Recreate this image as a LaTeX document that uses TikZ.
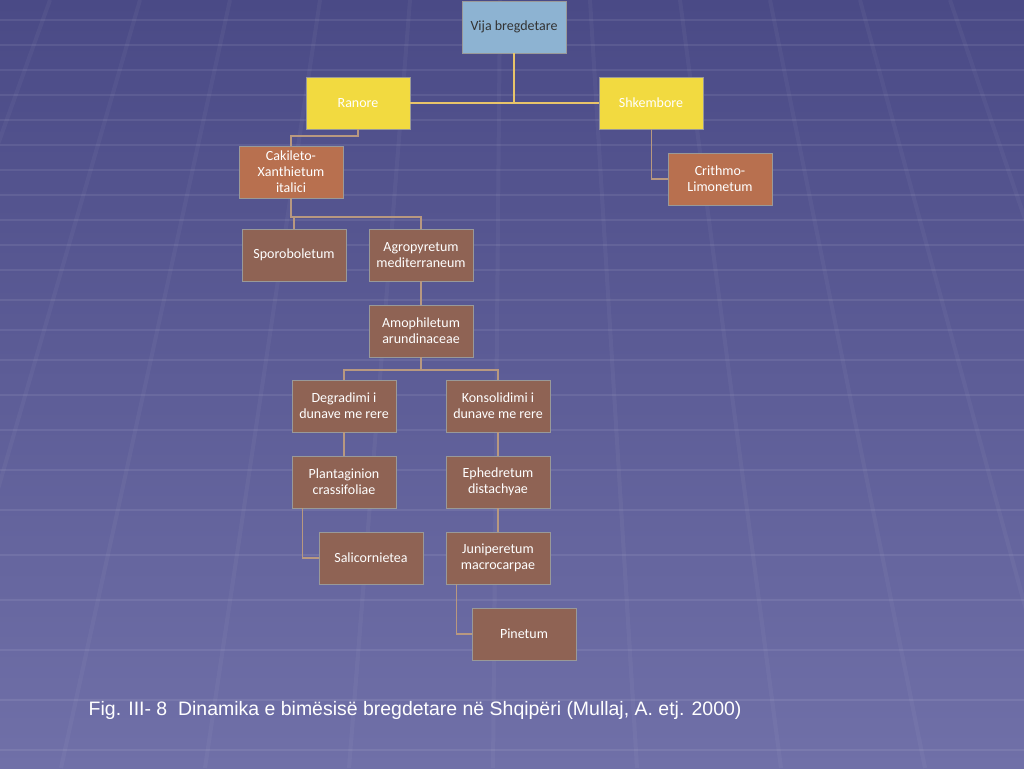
\documentclass[tikz,border=0pt]{standalone}
\usepackage{fontspec}
\setmainfont{Carlito}
\newfontfamily\capfont{Liberation Sans}
\definecolor{bgtop}{HTML}{4A4A86}
\definecolor{bgbot}{HTML}{7070A8}
\definecolor{boxb}{HTML}{8F6354}
\definecolor{boxo}{HTML}{B8704F}
\definecolor{boxy}{HTML}{F2DA40}
\definecolor{boxbl}{HTML}{8DB3D2}
\definecolor{lnb}{HTML}{B89880}
\definecolor{lny}{HTML}{E8C46A}
\begin{document}
\begin{tikzpicture}[x=0.75pt,y=-0.75pt,
  bx/.style={draw=black!40,line width=0.6pt,minimum width=78pt,minimum height=39pt,inner sep=1pt,
    align=center,font=\fontsize{10.5}{12}\selectfont,text=white,fill=boxb},
  ln/.style={draw=lnb,line width=1pt},
  lnt/.style={draw=lny,line width=1.2pt}]
\useasboundingbox (0,0) rectangle (1024,768);
\begin{scope}
\clip (0,0) rectangle (1024,768);
\shade[top color=bgtop,bottom color=bgbot] (0,0) rectangle (1024,768);
\foreach \y in {20,45,70,95,120,145,170,195,220,245,270,300,330,360,395,430,470,510,555,600,650,700,750}
  \draw[white,opacity=0.08,line width=2pt] (0,\y) -- (1024,\y);
\foreach \x in {50,140,230,320,410,500,590,680,770,860,950}
  \draw[white,opacity=0.04,line width=3pt] (\x,0) -- (512+1.6*\x-819,768);
\end{scope}
\node[bx,fill=boxbl,text=black!80] (vija) at (514,27) {Vija bregdetare};
\node[bx,fill=boxy] (ran) at (358,103) {Ranore};
\node[bx,fill=boxy] (shk) at (651,103) {Shkembore};
\node[bx,fill=boxo] (cak) at (291,172) {Cakileto-\\Xanthietum\\italici};
\node[bx,fill=boxo] (cri) at (720,179) {Crithmo-\\Limonetum};
\node[bx] (spo) at (294,255) {Sporoboletum};
\node[bx] (agr) at (421,255) {Agropyretum\\mediterraneum};
\node[bx] (amo) at (421,331) {Amophiletum\\arundinaceae};
\node[bx] (deg) at (344,406) {Degradimi i\\dunave me rere};
\node[bx] (kon) at (498,406) {Konsolidimi i\\dunave me rere};
\node[bx] (pla) at (344,482) {Plantaginion\\crassifoliae};
\node[bx] (eph) at (498,482) {Ephedretum\\distachyae};
\node[bx] (sal) at (371,558) {Salicornietea};
\node[bx] (jun) at (498,558) {Juniperetum\\macrocarpae};
\node[bx] (pin) at (524,634) {Pinetum};
\draw[lnt] (vija.south) -- (514,103);
\draw[lnt] (ran.east) -- (shk.west);
\draw[ln] (ran.south) -- (358,136) -| (cak.north);
\draw[ln] (shk.south west) ++(53,0) |- (cri.west);
\draw[ln] (cak.south) -- (291,217) -| (spo.north);
\draw[ln] (291,217) -| (agr.north);
\draw[ln] (agr.south) -- (amo.north);
\draw[ln] (amo.south) -- (421,370) -| (deg.north);
\draw[ln] (421,370) -| (kon.north);
\draw[ln] (deg.south) -- (pla.north);
\draw[ln] (kon.south) -- (eph.north);
\draw[ln] (eph.south) -- (jun.north);
\draw[ln] (pla.south west) ++(11,0) |- (sal.west);
\draw[ln] (jun.south west) ++(11,0) |- (pin.west);
\node[anchor=west,text=white,font=\capfont\fontsize{14.6}{16}\selectfont] (cap) at (84,710)
  {Fig. III- 8\ \ Dinamika e bimësisë bregdetare në Shqipëri (Mullaj, A. etj. 2000)};
\end{tikzpicture}
\end{document}
